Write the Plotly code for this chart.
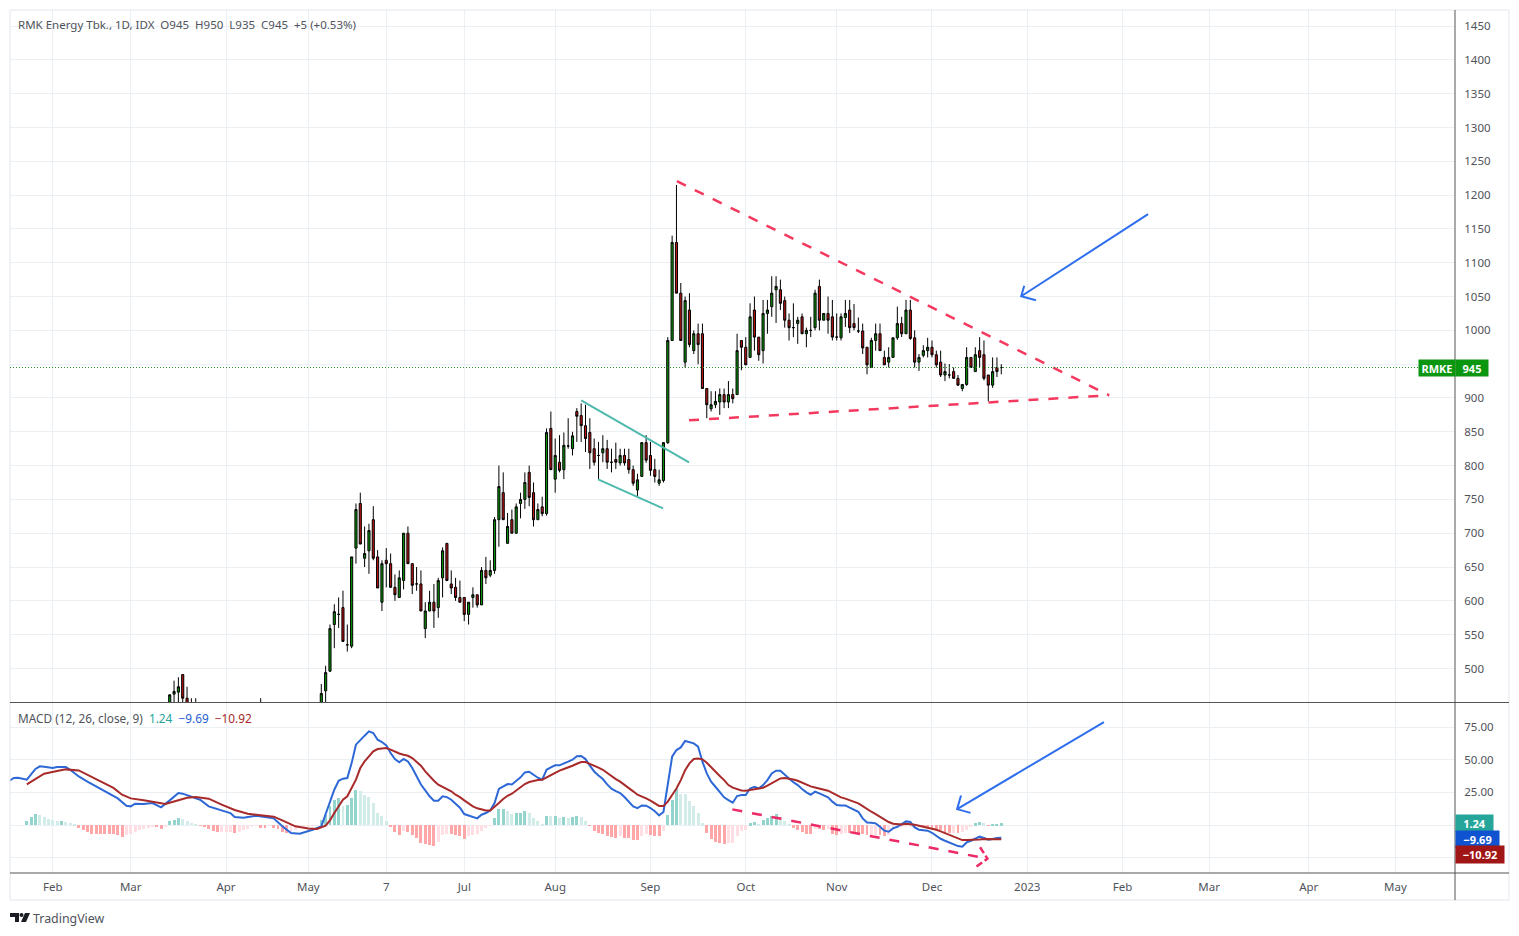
# -*- coding:utf-8 -*-
import plotly.graph_objects as go

# bar numbers: bar 0 is the first candle that comes fully into the price pane
early_bars = [-35, -34, -33, -32, -31, -30, -29, -14]
early_open = [440, 462, 465, 491, 456, 440, 440, 440]
early_high = [462, 482, 487, 491, 473, 456, 456, 456]
early_low = [435, 440, 445, 440, 430, 430, 430, 430]
early_close = [461, 466, 473, 456, 440, 435, 435, 440]

opens = [
    440, 467, 496, 565, 580, 590, 535, 533, 678, 744, 663, 674, 720, 665, 598, 660, 655, 620, 605, 630,
    700, 655, 625, 625, 559, 585, 598, 590, 634, 685, 625, 620, 605, 605, 580, 605, 609, 594, 645, 638,
    645, 720, 760, 685, 720, 700, 744, 750, 790, 760, 720, 739, 729, 855, 780, 805, 794, 829, 825, 880,
    874, 859, 849, 825, 815, 819, 825, 805, 809, 804, 815, 809, 794, 764, 784, 834, 815, 794, 774, 778,
    834, 985, 1130, 1055, 953, 1030, 970, 995, 995, 914, 884, 890, 894, 905, 894, 905, 905, 985, 975, 960,
    1030, 990, 970, 1025, 1035, 1060, 1060, 1044, 1015, 1004, 1010, 1020, 995, 1000, 1004, 1065, 1015, 1025, 1020, 990,
    989, 1019, 1030, 1010, 999, 999, 975, 945, 985, 995, 960, 953, 960, 989, 1010, 995, 1030, 989, 953, 963,
    970, 975, 964, 953, 934, 934, 939, 929, 914, 920, 960, 939, 970, 964, 934, 919, 945, 945,
]
highs = [
    477, 504, 565, 595, 605, 615, 565, 665, 744, 760, 710, 714, 740, 675, 660, 678, 670, 639, 645, 700,
    710, 655, 650, 645, 598, 615, 625, 634, 679, 685, 645, 634, 630, 605, 598, 620, 609, 650, 665, 660,
    724, 800, 790, 730, 735, 744, 760, 790, 800, 775, 744, 754, 855, 880, 840, 845, 849, 870, 850, 885,
    892, 890, 870, 840, 835, 845, 838, 825, 834, 825, 825, 825, 800, 788, 834, 845, 835, 810, 794, 834,
    990, 1140, 1215, 1070, 1050, 1055, 1000, 1010, 1010, 914, 910, 910, 914, 914, 925, 914, 995, 985, 990, 1040,
    1050, 990, 1045, 1045, 1080, 1080, 1075, 1050, 1025, 1040, 1020, 1025, 1004, 1020, 1060, 1075, 1025, 1050, 1045, 1025,
    1025, 1045, 1045, 1039, 1019, 1010, 975, 989, 1010, 1010, 970, 975, 989, 1035, 1020, 1045, 1045, 1000, 965, 978,
    989, 985, 970, 970, 951, 950, 945, 934, 920, 975, 960, 975, 990, 985, 934, 960, 960, 950,
]
lows = [
    430, 450, 495, 530, 560, 540, 525, 530, 655, 684, 650, 640, 660, 619, 585, 620, 620, 600, 605, 617,
    655, 610, 615, 585, 545, 585, 560, 575, 605, 630, 610, 600, 598, 570, 565, 590, 590, 594, 625, 635,
    640, 680, 720, 685, 700, 700, 722, 736, 740, 710, 720, 725, 726, 794, 760, 790, 780, 825, 815, 835,
    835, 820, 795, 800, 779, 805, 795, 790, 795, 800, 800, 788, 770, 755, 784, 804, 785, 775, 770, 775,
    832, 985, 1055, 985, 945, 975, 965, 950, 914, 870, 880, 885, 875, 885, 885, 892, 905, 941, 949, 960,
    970, 955, 951, 995, 1020, 1011, 1030, 1004, 985, 990, 980, 995, 975, 990, 1000, 1000, 1015, 995, 985, 985,
    985, 1005, 996, 1000, 996, 965, 935, 945, 970, 970, 949, 945, 960, 986, 990, 995, 986, 945, 940, 960,
    960, 960, 945, 931, 925, 929, 929, 918, 910, 918, 945, 939, 945, 926, 895, 915, 931, 935,
]
closes = [
    463, 494, 559, 584, 580, 540, 535, 665, 735, 684, 670, 704, 663, 619, 655, 655, 620, 609, 634, 700,
    655, 623, 625, 585, 585, 598, 585, 630, 674, 630, 619, 605, 598, 580, 598, 609, 594, 645, 634, 645,
    720, 769, 720, 710, 700, 739, 750, 775, 753, 720, 735, 729, 849, 794, 815, 793, 830, 829, 844, 873,
    859, 840, 819, 805, 815, 825, 805, 805, 805, 815, 804, 794, 774, 779, 834, 808, 793, 784, 779, 834,
    985, 1130, 1055, 985, 1044, 979, 995, 979, 914, 890, 890, 895, 905, 894, 905, 899, 970, 975, 949, 1020,
    990, 964, 1025, 1030, 1055, 1065, 1040, 1015, 1004, 1004, 1015, 995, 1000, 1000, 1055, 1015, 1025, 1015, 990, 990,
    1020, 1025, 1004, 1004, 999, 974, 949, 985, 995, 970, 949, 960, 989, 1010, 995, 1030, 988, 953, 960, 970,
    975, 964, 949, 934, 939, 934, 929, 919, 920, 960, 945, 964, 960, 929, 919, 939, 939, 945,
]

price_ticks = [500, 550, 600, 650, 700, 750, 800, 850, 900, 950, 1000, 1050,
               1100, 1150, 1200, 1250, 1300, 1350, 1400, 1450]
# the 950 label sits under the last price tag in the original
price_tick_labels = ['500', '550', '600', '650', '700', '750', '800', '850', '900', '', '1000', '1050',
                     '1100', '1150', '1200', '1250', '1300', '1350', '1400', '1450']
macd_ticks = [-25, 0, 25, 50, 75]
macd_tick_labels = ['', '', '25.00', '50.00', '75.00']
month_bars = [-62, -44, -22, -3, 15, 33, 54, 76, 98, 119, 141, 163, 185, 205, 228, 248]
month_labels = ['Feb', 'Mar', 'Apr', 'May', '7', 'Jul', 'Aug', 'Sep', 'Oct', 'Nov', 'Dec',
                '2023', 'Feb', 'Mar', 'Apr', 'May']

macd_early_bars = [-72, -71, -70, -68, -66, -65, -64, -62, -61, -59, -58, -56, -54, -52, -50, -47, -45, -44, -43,
                   -41, -39, -37, -35, -33, -32, -30, -28, -26, -24, -21, -20, -18, -15, -11, -9, -7, -5, -3, -2, 0, 1]
macd_early = [34.0, 36, 36.2, 34.7, 42.9, 44.9, 44.6, 43.6, 44.4, 44.4, 42.3, 37.2, 33.2, 29.6, 25.5, 20.4, 14.8, 14.3, 16.3,
              16.1, 16.8, 13.5, 18.9, 24.5, 24, 21.4, 19.4, 14.3, 12.2, 9.2, 6.1, 5.6, 7.1, 5.1, -1, -6.1, -6.6, -4.6, -3.6, -1, 7.9]
# from bar 2 on, one value per bar
macd_line = [
    16.8, 27, 33.9, 35.5, 36, 47.4, 61.5, 65.3, 68.4, 71.7,
    70.4, 65.3, 63.5, 61, 55.1, 50.5, 48, 50.5, 48.7, 43.6,
    37.8, 31, 26.5, 22, 18.6, 18.6, 22, 21.4, 19.4, 16.3,
    13.3, 8.4, 7.4, 6.6, 5.1, 7.9, 9.2, 11.2, 16.8, 27.6,
    29.6, 31.4, 31.1, 33.7, 36.5, 40.3, 40.8, 38.5, 36.2, 34.7,
    42.3, 44.1, 45.7, 45.7, 47.4, 48.5, 50, 52.6, 52.8, 50.5,
    45.4, 41, 38, 35.2, 31.1, 27.8, 26, 24.5, 21.4, 18.1,
    14.3, 13, 15, 14.8, 13, 10.5, 7.4, 10, 31.9, 52.3,
    57.4, 59.4, 64.3, 63.5, 62.5, 60, 48.5, 39.5, 33.2, 29.3,
    25.5, 21.2, 19.1, 17.1, 22.2, 23, 23, 28, 29.3, 28,
    30.6, 34.4, 39.5, 41.6, 41.6, 38.3, 35.7, 32.7, 30.6, 27.6,
    25, 23.2, 25.5, 24.2, 23, 21.2, 17.9, 15.3, 15, 15,
    13.3, 11.5, 10.2, 5.1, 2, 1.8, 1.3, -1.3, -4.3, -5.1,
    -2.6, -1.3, 0.8, 2.8, 2.3, -1.8, -3.6, -3.8, -4.3, -5.9,
    -8.4, -10.5, -12, -13.5, -14.8, -16.1, -16.6, -13.3, -12, -10.2,
    -8.9, -9.9, -11.2, -10.7, -9.9, -9.69,
]
signal_early_bars = [-68, -66, -64, -61, -59, -56, -54, -51, -48, -46, -44, -41, -39, -36, -34, -31, -29, -26, -23,
                     -20, -17, -14, -11, -9, -6, -3, -1, 1]
signal_early = [31.1, 35, 39.3, 41.3, 42.6, 41.8, 38.3, 33.5, 28.4, 23.2, 20.4, 18.9, 17.6, 16.1, 18, 20.9, 21.4, 20.2, 15.6,
                11.5, 8.7, 7.6, 6.4, 3.6, -1, -2.6, -3, -0.5]
signal_line = [
    3.6, 9.2, 14.8, 19.4, 22, 28.3, 34.7, 43.6, 48.7, 52.6,
    56.4, 58.2, 58.7, 58.9, 57.7, 56.1, 54.8, 53.8, 53, 51.3,
    48.7, 45.4, 41, 37.2, 33.9, 30.9, 29, 27.6, 25.8, 23.2,
    21.4, 18.9, 16.3, 14.3, 12.8, 11.7, 11.2, 11.2, 13.8, 16.8,
    19.9, 22.4, 24, 26.5, 29, 31.4, 32.9, 33.9, 34.4, 34.7,
    36.5, 38.3, 39.8, 41.6, 42.9, 43.9, 45.4, 46.9, 48.2, 48.2,
    46.9, 45.4, 43.9, 42.3, 39.8, 37.2, 35.2, 33.2, 30.9, 28.3,
    25.8, 23.2, 21.9, 20.4, 18.6, 16.8, 14.6, 14.5, 17.9, 23,
    28, 34.4, 42, 47.2, 50.5, 51, 50.3, 47.7, 44.1, 40.8,
    37.5, 34.4, 30.6, 28.6, 27.3, 26.5, 26.3, 26.8, 27.3, 27.8,
    28.6, 30.1, 31.9, 33.9, 35.7, 36, 35.5, 34.9, 33.9, 32.4,
    30.9, 29.6, 28.8, 28.1, 27.3, 26.3, 24.7, 22.7, 21.2, 20.2,
    18.9, 17.9, 16.6, 14.5, 12.2, 10.2, 8.4, 6.4, 4.3, 2.3,
    1, 0.5, 0.5, 1, 0.8, 0.3, -0.5, -1.3, -1.8, -2.6,
    -3.6, -4.8, -6.1, -7.7, -8.9, -10.2, -11.5, -11.5, -11.5, -11.2,
    -11, -10.7, -10.7, -10.5, -10.5, -10.92,
]
# histogram, bars -68 to 157
hist_first_bar = -68
hist = [
    3.3, 6.1, 8.7, 7.9, 6.1, 4.6, 3.8, 3.3, 3.3, 2.6, 1.8, 0.4, -2.3, -3.6, -5.6, -6.6, -6.7, -6.8, -6.9, -7.1,
    -7.2, -7.4, -8.9, -7.9, -6.9, -5.6, -4.1, -3.1, -2.0, -1.3, -1.5, -3.4, -1.3, 2.8, 4.1, 5.6, 4.6, 3.3, 1.8, 0.4,
    -0.5, -1.5, -3, -4.6, -5.1, -5.1, -5.1, -5.1, -5.9, -5.1, -4.1, -3.1, -1.5, -0.5, -2, -2.1, -0.5, -2, -3.1, -5.4,
    -5.9, -5.1, -3.6, -2.3, -1.5, -1, -0.5, -0.3,
    4.1, 7.9, 14.8, 19.4, 20.7, 14.3, 15.6, 20.9, 27, 26.3, 23.2, 21.7, 17.1, 9.2, 6.6, 3.3, -1.8, -5.6, -7.4, -4.8,
    -5, -7.4, -9.7, -13.8, -14.8, -14.9, -15.8, -12.8, -7.9, -6.9, -7.1, -7.9, -8.7, -10.5, -8.7, -7.4, -7, -4.3, -2.6, -0.3,
    5.6, 12.5, 12.6, 11, 8.7, 9.4, 9.5, 11, 9.4, 5.6, 3.3, 1, 7.1, 7, 7.2, 5.6, 6.4, 5.6, 6, 7.1,
    6.4, 3.3, -0.3, -4.3, -5.9, -6.6, -8.2, -8.9, -9.7, -8.2, -9.7, -9.8, -11.2, -11.3, -8.2, -6.6, -7.9, -8, -8.2, -4.3,
    7.7, 19.1, 27.6, 23.7, 23.6, 18.4, 14.5, 9.2, 1.5, -6.1, -10.7, -13, -13.8, -14.5, -13.8, -13.7, -8.4, -4.6, -3.8, 1.5,
    2.3, 0.8, 3.8, 5.4, 6.9, 8.4, 6.4, 3.1, 0.8, -2.3, -3.8, -5.4, -6.9, -7, -3, -3.3, -3.8, -3.1, -6.9, -7.7,
    -6.9, -6.1, -6.3, -6.4, -6.5, -6.9, -7.7, -7.6, -7.5, -7.7, -8.4, -7.7, -2.3, -1.5, -1.5, -1.5, -0.8, -1.5, -1.5, -1.6,
    -2.3, -2.8, -3.8, -3.9, -6.1, -6.2, -6.2, -6.3, -5.4, -3.8, -0.8, 1.5, 2.3, 1.5, -0.3, 0.8, 0.8, 1.24,
]

# hand drawn lines on the chart, in bar number and price / macd value
flag_top = ([60, 84.9], [896.5, 804.8])
flag_bottom = ([63.9, 78.9], [779.7, 736.8])
wedge_top = ([82.1, 181.9], [1220.6, 904])
wedge_bottom = ([84.9, 181.9], [867, 904])
price_arrow = ([190.9, 161.6, 162.3, 161.6, 165], [1171.8, 1050.4, 1066, 1050.4, 1044.5])
macd_arrow = ([180.7, 146.8, 147.7, 146.8, 149.9], [78.8, 12.2, 22.6, 12.2, 9.3])
macd_trend = ([94.9, 153.5], [12, -25.5])
macd_chevron = ([152.1, 153.8, 151.2], [-17, -25.7, -31.9])

W, H = 1503, 920


def px(x):
    return (x - 8) / W


def py(y):
    return 1 - (y - 8) / H


TEXT = '#50535b'
FONT = 'Noto Sans'
GRID = '#eaf0f4'
DARK = '#555555'
RED_DRAW = '#f5385e'

fig = go.Figure()

fig.add_trace(go.Candlestick(
    x=early_bars + list(range(len(opens))),
    open=early_open + opens, high=early_high + highs,
    low=early_low + lows, close=early_close + closes,
    increasing=dict(fillcolor='#089008', line=dict(color='#000000', width=1)),
    decreasing=dict(fillcolor='#b81212', line=dict(color='#000000', width=1)),
    whiskerwidth=0, showlegend=False, xaxis='x', yaxis='y',
))
for line, color, dash, width in [
    (flag_top, '#4fb9ad', 'solid', 2), (flag_bottom, '#4fb9ad', 'solid', 2),
    (wedge_top, RED_DRAW, '10px,10px', 2.5), (wedge_bottom, RED_DRAW, '10px,10px', 2.5),
    (price_arrow, '#2f6fee', 'solid', 2),
]:
    fig.add_trace(go.Scatter(x=line[0], y=line[1], mode='lines', showlegend=False,
                             line=dict(color=color, dash=dash, width=width), xaxis='x', yaxis='y'))

# histogram colours: strong while the bar grows away from zero, pale while it shrinks
hist_colors = []
for i, h in enumerate(hist):
    prev = hist[i - 1] if i else 0
    if h >= 0:
        hist_colors.append('#93d4cd' if h >= prev else '#d2ecea')
    else:
        hist_colors.append('#ffa6a9' if h < prev else '#ffdfe3')

fig.add_trace(go.Bar(x=[hist_first_bar + i for i in range(len(hist))], y=hist,
                     marker=dict(color=hist_colors, line=dict(width=0)), width=0.68,
                     showlegend=False, xaxis='x2', yaxis='y2'))
fig.add_trace(go.Scatter(x=macd_early_bars + list(range(2, 2 + len(macd_line))), y=macd_early + macd_line,
                         mode='lines', line=dict(color='#2d68d6', width=2), showlegend=False,
                         xaxis='x2', yaxis='y2'))
fig.add_trace(go.Scatter(x=signal_early_bars + list(range(2, 2 + len(signal_line))), y=signal_early + signal_line,
                         mode='lines', line=dict(color='#a82a2a', width=2), showlegend=False,
                         xaxis='x2', yaxis='y2'))
for line, dash, width in [(macd_arrow, 'solid', 2), (macd_trend, '10px,10px', 2.5), (macd_chevron, '7px,3px', 2.5)]:
    color = '#2f6fee' if line is macd_arrow else '#ee2a66'
    fig.add_trace(go.Scatter(x=line[0], y=line[1], mode='lines', showlegend=False,
                             line=dict(color=color, dash=dash, width=width), xaxis='x2', yaxis='y2'))

bar_range = [-71.88, 261.76]
frame = [
    # outer frame
    dict(x0=10, x1=1509, y0=10, y1=10, c='#e3e6ee'), dict(x0=10, x1=1509, y0=900, y1=900, c='#e3e6ee'),
    dict(x0=10, x1=10, y0=10, y1=900, c='#e3e6ee'), dict(x0=1509, x1=1509, y0=10, y1=900, c='#e3e6ee'),
    # pane separators
    dict(x0=10, x1=1509, y0=702.5, y1=702.5, c=DARK), dict(x0=10, x1=1509, y0=873, y1=873, c=DARK),
    dict(x0=1455, x1=1455, y0=10, y1=900, c=DARK),
]
shapes = [dict(type='line', xref='paper', yref='paper', x0=px(f['x0']), x1=px(f['x1']),
               y0=py(f['y0']), y1=py(f['y1']), line=dict(color=f['c'], width=1)) for f in frame]
shapes.append(dict(type='line', xref='x', yref='y', x0=bar_range[0], x1=bar_range[1], y0=closes[-1], y1=closes[-1],
                   line=dict(color='#1f8a1f', width=1, dash='1px,2px')))

# TradingView mark: the seven, the dot and the slash
LOGO = '#1b1d24'
shapes.append(dict(type='path', xref='paper', yref='paper', line=dict(width=0), fillcolor=LOGO,
                   path='M %f,%f L %f,%f L %f,%f L %f,%f L %f,%f L %f,%f Z' % (
                       px(10), py(913), px(19), py(913), px(19), py(922),
                       px(15), py(922), px(15), py(917), px(10), py(917))))
shapes.append(dict(type='circle', xref='paper', yref='paper', line=dict(width=0), fillcolor=LOGO,
                   x0=px(19.5), x1=px(23.5), y0=py(917), y1=py(913)))
shapes.append(dict(type='path', xref='paper', yref='paper', line=dict(width=0), fillcolor=LOGO,
                   path='M %f,%f L %f,%f L %f,%f L %f,%f Z' % (
                       px(25), py(913), px(30), py(913), px(26), py(922), px(21), py(922))))


def label(text, x, y, color=TEXT, size=12, **kw):
    return dict(text=text, xref='paper', yref='paper', x=px(x), y=py(y), showarrow=False,
                xanchor='left', yanchor='middle', font=dict(family=FONT, size=size, color=color), **kw)


def badge(text, x0, x1, y0, y1, color):
    return label('<b>%s</b>' % text, x0, (y0 + y1) / 2, color='#ffffff', size=11, bgcolor=color,
                 width=x1 - x0, height=y1 - y0, align='center', borderpad=0)


annotations = [
    label('RMK Energy Tbk., 1D, IDX&nbsp;&nbsp;O945&nbsp;&nbsp;H950&nbsp;&nbsp;L935&nbsp;&nbsp;C945&nbsp;&nbsp;+5 (+0.53%)',
          16, 25, size=11.5),
    label('MACD (12, 26, close, 9)&nbsp;&nbsp;<span style="color:#26a69a">1.24</span>&nbsp;&nbsp;'
          '<span style="color:#1f5fd0">−9.69</span>&nbsp;&nbsp;<span style="color:#a82a2a">−10.92</span>',
          16, 718, size=11.8),
    label('TradingView', 31, 918, color='#50535b', size=12.4),
    badge('RMKE', 1418, 1454, 360, 376, '#0a960f'),
    badge('945', 1455, 1487, 360, 376, '#0a960f'),
    badge('1.24', 1455, 1492, 815, 832, '#26a69a'),
    badge('−9.69', 1455, 1498, 831, 848, '#1053d0'),
    badge('−10.92', 1455, 1503, 846, 863, '#a01515'),
]

axis_font = dict(family=FONT, size=11.5, color=TEXT)
fig.update_layout(
    width=W, height=H, margin=dict(l=0, r=0, t=0, b=0),
    paper_bgcolor='#ffffff', plot_bgcolor='#ffffff', bargap=0, boxgap=0.3,
    shapes=shapes, annotations=annotations, showlegend=False,
    xaxis=dict(domain=[px(10), px(1455)], range=bar_range, anchor='y', showticklabels=False,
               tickvals=month_bars, showgrid=True, gridcolor=GRID, zeroline=False,
               rangeslider=dict(visible=False), ticks=''),
    yaxis=dict(domain=[py(702.5), py(10)], range=[449.7, 1473.7], side='right', anchor='x',
               tickvals=price_ticks, ticktext=price_tick_labels, ticks='outside', ticklen=6,
               tickcolor='rgba(0,0,0,0)', tickfont=axis_font, showgrid=True, gridcolor=GRID, zeroline=False),
    xaxis2=dict(domain=[px(10), px(1455)], range=bar_range, anchor='y2', tickvals=month_bars,
                ticktext=month_labels, tickfont=axis_font, ticks='outside', ticklen=3,
                tickcolor='rgba(0,0,0,0)', showgrid=True, gridcolor=GRID, zeroline=False),
    yaxis2=dict(domain=[py(873), py(703)], range=[-36.7, 93.4], side='right', anchor='x2',
                tickvals=macd_ticks, ticktext=macd_tick_labels, ticks='outside', ticklen=6,
                tickcolor='rgba(0,0,0,0)', tickfont=axis_font, showgrid=True, gridcolor=GRID, zeroline=False),
)

fig.write_html("out.html")
